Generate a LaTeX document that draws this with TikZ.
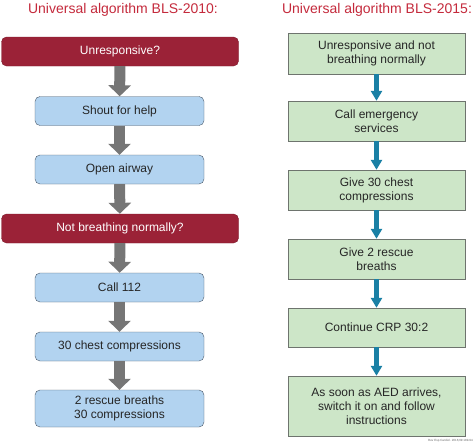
\documentclass[tikz,border=0pt]{standalone}
\usepackage{fontspec}
\setmainfont{Liberation Sans}
\usepackage{xcolor}
\usepackage{tikz}
\usetikzlibrary{arrows.meta}

\definecolor{bordeaux}{HTML}{9B2237}
\definecolor{titlered}{HTML}{C42A3C}
\definecolor{paleblue}{HTML}{B2D3F0}
\definecolor{blueedge}{HTML}{4A5868}
\definecolor{palegreen}{HTML}{CDE6C8}
\definecolor{greenedge}{HTML}{6E746E}
\definecolor{teal}{HTML}{1A80A5}
\definecolor{arrowgray}{HTML}{767676}

\tikzset{
  redstep/.style={draw=bordeaux!80!black, fill=bordeaux, text=white, rounded corners=5pt,
    minimum width=237pt, minimum height=29pt, font=\fontsize{12}{14}\selectfont, inner sep=0pt},
  bluestep/.style={draw=blueedge, fill=paleblue, text=black!85, rounded corners=5pt,
    minimum width=169pt, minimum height=29pt, align=center, font=\fontsize{12}{14}\selectfont, inner sep=0pt},
  greenstep/.style={draw=greenedge, fill=palegreen, text=black!85,
    minimum width=177pt, minimum height=40pt, align=center, font=\fontsize{12}{14}\selectfont, inner sep=0pt},
  grayarrow/.style={draw=arrowgray, line width=11pt, -{Triangle[width=22pt,length=11pt]}},
  tealarrow/.style={draw=teal, line width=5pt, -{Triangle[width=11pt,length=10pt]}},
  heading/.style={text=titlered, font=\fontsize{14}{16}\selectfont, inner sep=0pt}
}

\begin{document}
\begin{tikzpicture}[x=1pt, y=-1pt]
        \useasboundingbox (0,0) rectangle (474,445);

        % BLS-2010
        \node[heading] at (123, 10)   (T1) {Universal algorithm BLS-2010:};
        \node[redstep] at (120, 51.5)   (U) {Unresponsive?};
        \node[bluestep] at (119.5, 111)   (S) {Shout for help};
        \node[bluestep] at (119.5, 169.5)   (O) {Open airway};
        \node[redstep] at (120, 228.5)   (N) {Not breathing normally?};
        \node[bluestep] at (119.5, 287.5)   (C) {Call 112};
        \node[bluestep] at (119.5, 346.5)   (P) {30 chest compressions};
        \node[bluestep, minimum height=37pt] at (119.5, 408.5)   (B) {2 rescue breaths\\30 compressions};
        \draw [grayarrow] (U) -- (S);
        \draw [grayarrow] (S) -- (O);
        \draw [grayarrow] (O) -- (N);
        \draw [grayarrow] (N) -- (C);
        \draw [grayarrow] (C) -- (P);
        \draw [grayarrow] (P) -- (B);

        % BLS-2015
        \node[heading] at (377, 10)   (T2) {Universal algorithm BLS-2015:};
        \node[greenstep, minimum height=41pt] at (376.5, 53.5)   (R1) {Unresponsive and not\\breathing normally};
        \node[greenstep] at (376.5, 121)   (R2) {Call emergency\\services};
        \node[greenstep] at (376.5, 190)   (R3) {Give 30 chest\\compressions};
        \node[greenstep] at (376.5, 259)   (R4) {Give 2 rescue\\breaths};
        \node[greenstep, minimum height=39pt] at (376.5, 327.5)   (R5) {Continue CRP 30:2};
        \node[greenstep, minimum height=60pt] at (376.5, 406)   (R6) {As soon as AED arrives,\\switch it on and follow\\instructions};
        \draw [tealarrow] (R1) -- (R2);
        \draw [tealarrow] (R2) -- (R3);
        \draw [tealarrow] (R3) -- (R4);
        \draw [tealarrow] (R4) -- (R5);
        \draw [tealarrow] (R5) -- (R6);

        \node[text=black!60, font=\fontsize{3}{3}\selectfont, anchor=east, inner sep=0pt] at (473, 441)   (src) {Rev Esp Cardiol. 2016;69:189-94};
    \end{tikzpicture}
\end{document}
